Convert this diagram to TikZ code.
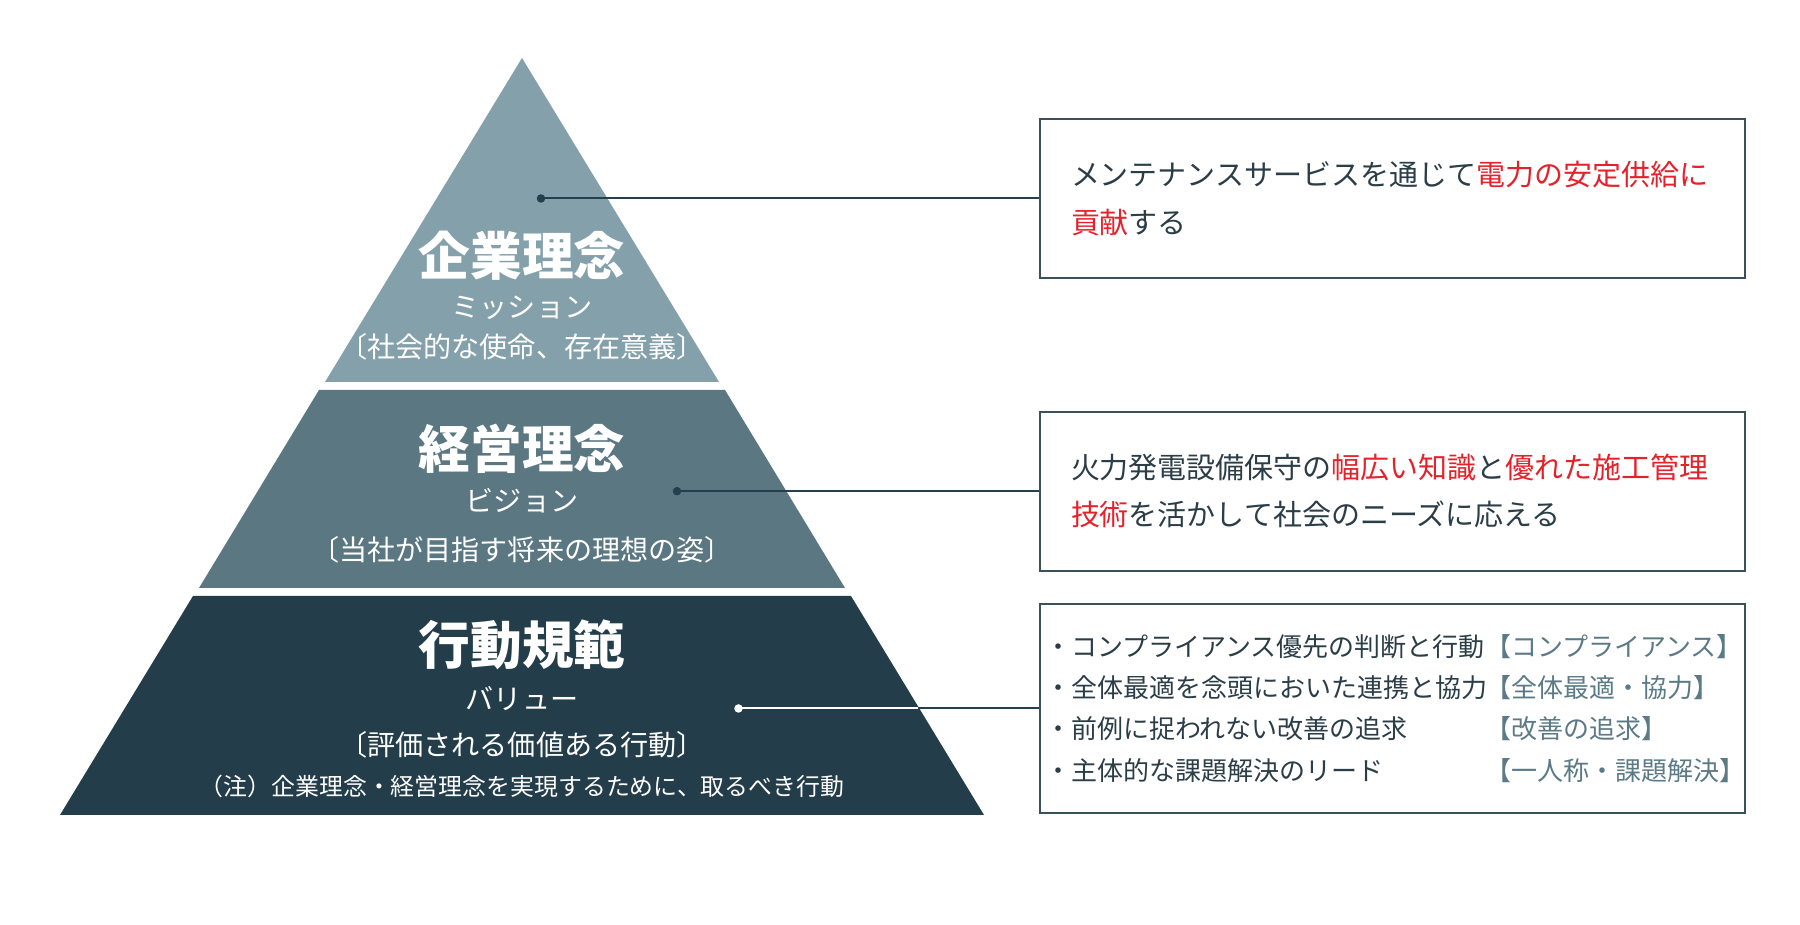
\documentclass[tikz,border=0pt]{standalone}
\usepackage{fontspec}
\setmainfont{Noto Sans CJK JP}
\usepackage{xcolor}
\usetikzlibrary{calc}
\definecolor{tierone}{HTML}{84A1AB}
\definecolor{tiertwo}{HTML}{5A7782}
\definecolor{tierthree}{HTML}{233E4A}
\definecolor{lineink}{HTML}{23404C}
\definecolor{boxline}{HTML}{3A515C}
\definecolor{inkdark}{HTML}{2B3D47}
\definecolor{keyred}{HTML}{E4222B}
\definecolor{tagblue}{HTML}{5B7A86}
\tikzset{
  tiertitle/.style={text=white,font=\fontsize{14.7}{16}\selectfont\bfseries},
  tiersub/.style={text=white,font=\fontsize{8}{10}\selectfont},
  tiernote/.style={text=white,font=\fontsize{6.8}{8}\selectfont},
  leader/.style={draw=lineink,line width=0.57pt},
  infobox/.style={draw=boxline,line width=0.6pt,minimum width=7.05cm,minimum height=1.59cm,
    inner xsep=0.31cm,text width=6.43cm,align=left,text=inkdark,font=\fontsize{8.25}{13.4}\selectfont},
}
\newcommand{\hot}[1]{\textcolor{keyred}{#1}}
\newcommand{\tagtext}[1]{\textcolor{tagblue}{#1}}
\newcommand{\valueline}[2]{\makebox[4.40cm][l]{#1}\tagtext{#2}}
\begin{document}
\begin{tikzpicture}
  \useasboundingbox (0,0) rectangle (18,9.25);
  \fill[tierone] (5.22,8.67) -- (7.19,5.43) -- (3.25,5.43) -- cycle;
  \fill[tiertwo] (3.19,5.35) -- (7.25,5.35) -- (8.45,3.37) -- (1.99,3.37) -- cycle;
  \fill[tierthree] (1.93,3.29) -- (8.51,3.29) -- (9.84,1.10) -- (0.60,1.10) -- cycle;

  \node[tiertitle] (missionhead) at (5.22,6.69) {企業理念};
  \node[tiersub] (missionsub) at (5.22,6.17) {ミッション};
  \node[tiersub] (missionnote) at (5.22,5.78) {〔社会的な使命、存在意義〕};

  \node[tiertitle] (visionhead) at (5.22,4.76) {経営理念};
  \node[tiersub] (visionsub) at (5.22,4.24) {ビジョン};
  \node[tiersub] (visionnote) at (5.22,3.75) {〔当社が目指す将来の理想の姿〕};

  \node[tiertitle] (valuehead) at (5.22,2.80) {行動規範};
  \node[tiersub] (valuesub) at (5.22,2.26) {バリュー};
  \node[tiersub] (valuenote) at (5.22,1.80) {〔評価される価値ある行動〕};
  \node[tiernote] (valueremark) at (5.22,1.39) {（注）企業理念・経営理念を実現するために、取るべき行動};

  \node[infobox] (missionbox) at (13.925,7.265)
    {メンテナンスサービスを通じて\hot{電力の安定供給に}\\\hot{貢献}する};
  \node[infobox] (visionbox) at (13.925,4.338)
    {火力発電設備保守の\hot{幅広い知識}と\hot{優れた施工管理}\\\hot{技術}を活かして社会のニーズに応える};
  \node[infobox,minimum height=2.09cm,inner xsep=0.05cm,text width=6.95cm,font=\fontsize{7.4}{11.7}\selectfont] (valuebox) at (13.925,2.165)
    {\valueline{・コンプライアンス優先の判断と行動}{【コンプライアンス】}\\
     \valueline{・全体最適を念頭においた連携と協力}{【全体最適・協力】}\\
     \valueline{・前例に捉われない改善の追求}{【改善の追求】}\\
     \valueline{・主体的な課題解決のリード}{【一人称・課題解決】}};

  \coordinate (missiondot) at (5.41,7.265);
  \coordinate (visiondot) at (6.77,4.338);
  \coordinate (valuedot) at (7.385,2.165);
  \coordinate (valueedge) at (9.18,2.165);

  \draw[leader] (missiondot) -- (missionbox.west);
  \filldraw[lineink] (missiondot) circle (0.035);
  \draw[leader] (visiondot) -- (visionbox.west);
  \filldraw[lineink] (visiondot) circle (0.035);
  \draw[white,line width=0.57pt] (valuedot) -- (valueedge);
  \draw[leader] (valueedge) -- (valuebox.west);
  \filldraw[white] (valuedot) circle (0.035);
\end{tikzpicture}
\end{document}
